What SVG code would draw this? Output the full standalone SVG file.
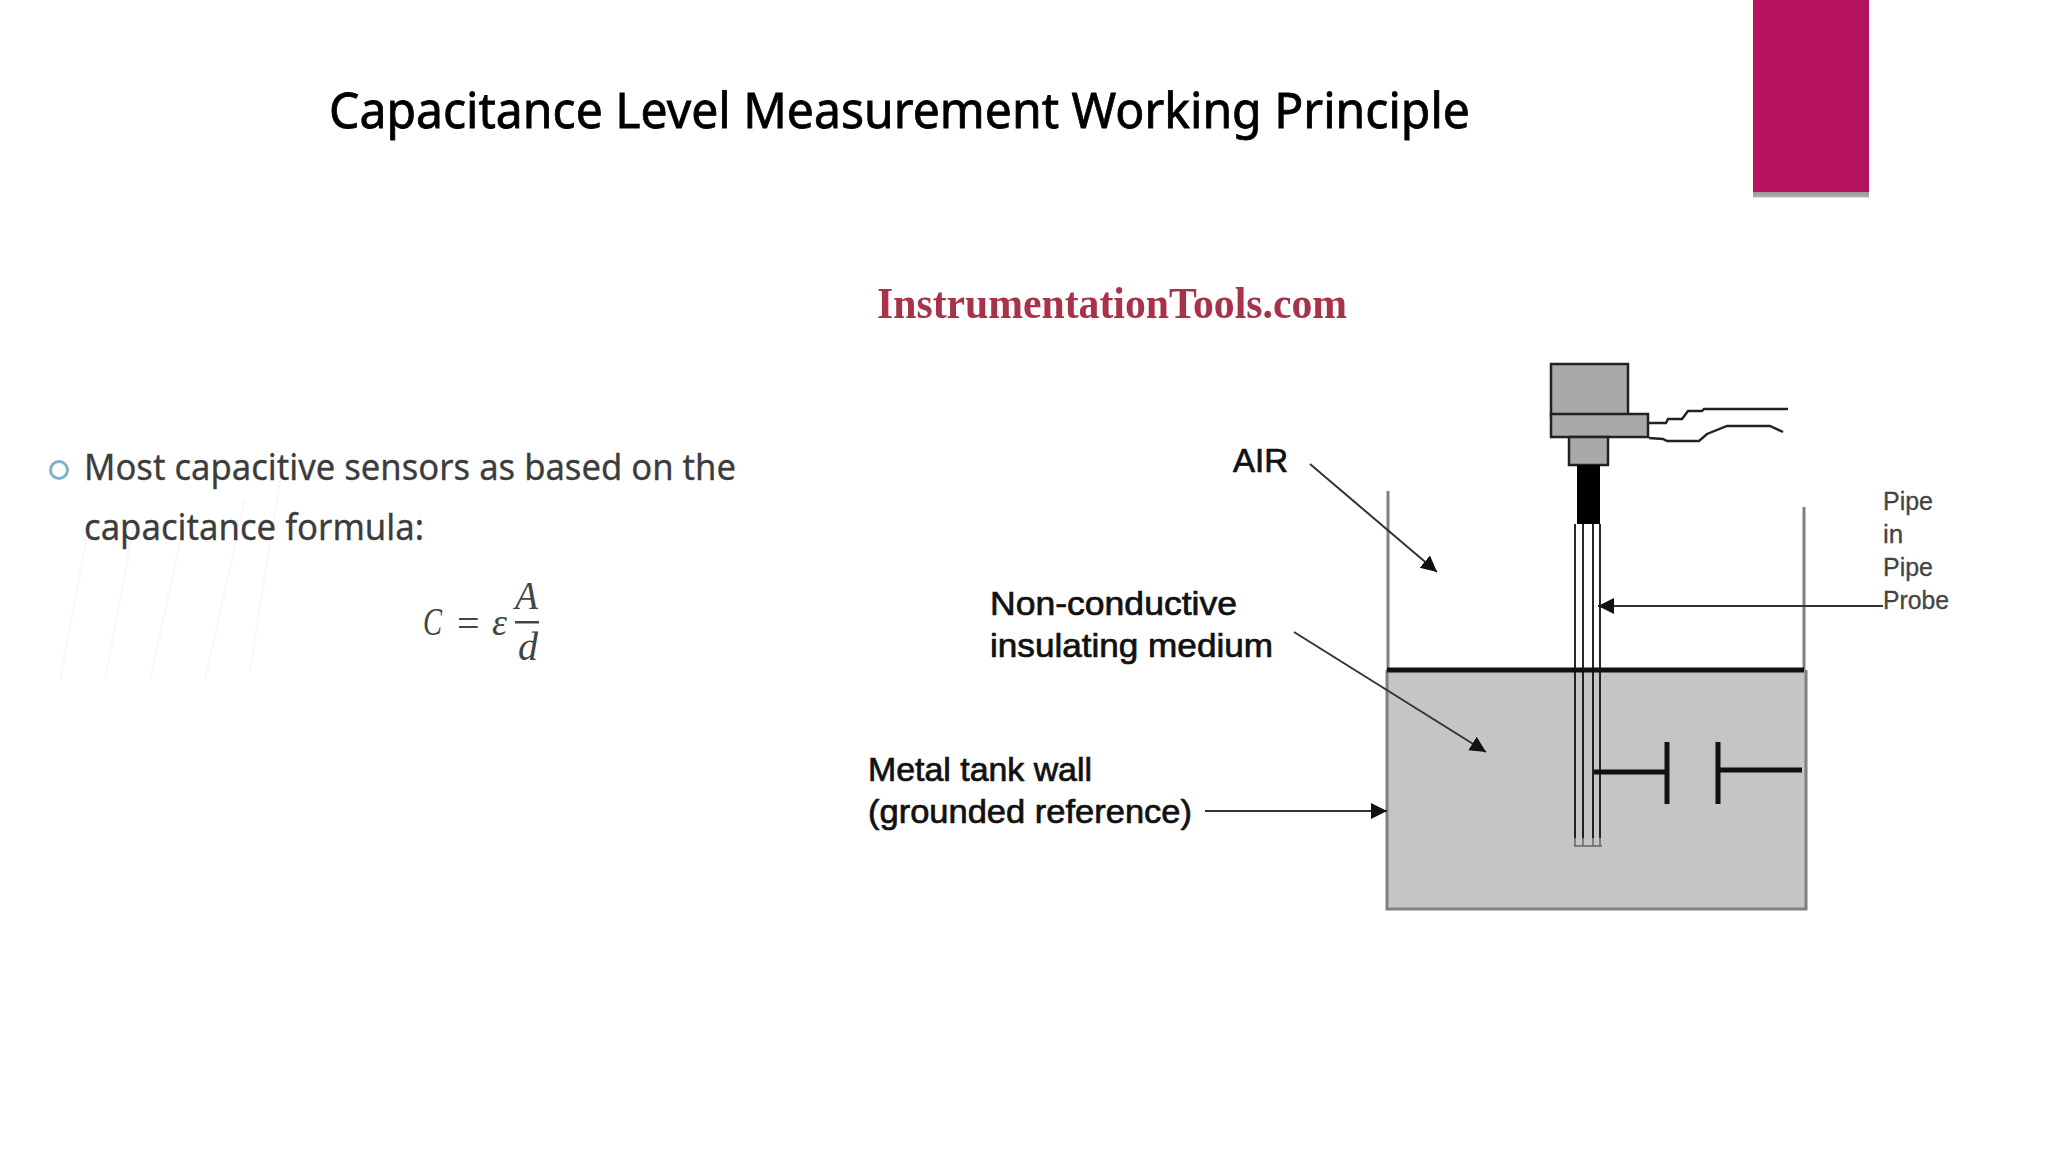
<svg xmlns="http://www.w3.org/2000/svg" width="2048" height="1152" viewBox="0 0 2048 1152">
<defs>
<marker id="ah" markerUnits="userSpaceOnUse" markerWidth="20" markerHeight="18" refX="16" refY="8" orient="auto"><path d="M0 0L16 8L0 16Z" fill="#111"/></marker>
<linearGradient id="sh" x1="0" y1="0" x2="0" y2="1"><stop offset="0" stop-color="#999"/><stop offset="0.7" stop-color="#aaa"/><stop offset="1" stop-color="#eee"/></linearGradient>
<filter id="soft" x="-5%" y="-5%" width="110%" height="110%"><feGaussianBlur stdDeviation="0.6"/></filter>
</defs>
<style>
.lb{font-family:"Liberation Sans",Arial,sans-serif;fill:#111;font-size:33px;stroke:#111;stroke-width:0.7px}
.pp{font-family:"Liberation Sans",Arial,sans-serif;fill:#444;font-size:26px;stroke:#444;stroke-width:0.3px}
.ui{font-family:"Noto Sans","Open Sans",sans-serif}
.m{font-family:"Liberation Serif",serif;font-style:italic;fill:#444}
.conn{fill:none;stroke:#333;stroke-width:2;marker-end:url(#ah)}
.body{fill:#aaa9a9;stroke:#222;stroke-width:2.5}
.pipe{stroke:#111;stroke-width:1.8;fill:none}
.wire{stroke:#222;stroke-width:2.4;fill:none}
.wall{stroke:#808080;stroke-width:3;fill:none}
.cap{stroke:#111;stroke-width:5;fill:none}
.streak{stroke:#f7f7f7;stroke-width:2;fill:none}
</style>
<rect width="2048" height="1152" fill="#fff"/>
<g id="accent"><rect x="1753" y="192" width="116" height="6" fill="url(#sh)"/><rect x="1753" y="0" width="116" height="192" fill="#b5125f"/></g>
<text id="title" class="ui" x="329" y="128" font-size="49" fill="#000" stroke="#000" stroke-width="0.8" textLength="1141" lengthAdjust="spacingAndGlyphs">Capacitance Level Measurement Working Principle</text>
<path class="streak" d="M60 680L90 520M105 680L135 520M150 680L185 520M205 680L245 500M250 670L280 480"/>
<g id="bullet"><circle cx="59" cy="470" r="8.500" fill="none" stroke="#7fb2c4" stroke-width="3"/>
<text class="ui" x="84" y="480" font-size="37" fill="#3c3c3c" stroke="#3c3c3c" stroke-width="0.3" textLength="652" lengthAdjust="spacingAndGlyphs">Most capacitive sensors as based on the</text>
<text class="ui" x="84" y="540" font-size="37" fill="#3c3c3c" stroke="#3c3c3c" stroke-width="0.3" textLength="340" lengthAdjust="spacingAndGlyphs">capacitance formula:</text></g>
<g id="formula">
<text class="m" x="423" y="635" font-size="40" textLength="19" lengthAdjust="spacingAndGlyphs">C</text><text x="457" y="637" font-size="40" fill="#444" font-family="Liberation Serif,serif">=</text><text class="m" x="492" y="635" font-size="38">ε</text>
<text class="m" x="515" y="609" font-size="40" textLength="23" lengthAdjust="spacingAndGlyphs">A</text><rect x="515" y="621" width="24" height="2.500" fill="#444"/><text class="m" x="518" y="660" font-size="40">d</text></g>
<text id="brand" x="877" y="318" font-family="Liberation Serif,serif" font-weight="bold" font-size="44" fill="#a8324a" textLength="470" lengthAdjust="spacingAndGlyphs" filter="url(#soft)">InstrumentationTools.com</text>
<g id="tank">
<rect x="1387" y="670" width="418" height="239" fill="#c5c5c5"/>
<path class="wall" d="M1388 491V670M1804 507V670M1387 670V909H1806V670"/>
<path d="M1387 670H1804" stroke="#111" stroke-width="5"/>
</g>
<g id="probe">
<rect class="body" x="1551" y="364" width="77" height="52"/>
<rect class="body" x="1551" y="414" width="97" height="23"/>
<rect class="body" x="1569" y="437" width="39" height="28"/>
<rect x="1577" y="465" width="23" height="59" fill="#000"/>
<path class="pipe" d="M1575 524V838M1583 524V838M1593 524V838M1600 524V838"/>
<path d="M1575 838V846M1583 838V846M1593 838V846M1600 838V846M1574 846H1602" stroke="#666" stroke-width="1.500" fill="none"/>
<path class="wire" d="M1649 423H1666L1668 419H1682L1688 411H1702L1704 409H1788"/>
<path class="wire" d="M1649 438L1663 439L1667 441H1699L1707 434L1727 426H1770L1783 432"/>
</g>
<g id="capacitor">
<path class="cap" d="M1594 772H1667M1719 770H1802"/>
<path class="cap" d="M1667 742V804M1718 742V804"/>
</g>
<g id="connectors">
<path class="conn" d="M1310 464L1437 572"/>
<path class="conn" d="M1294 632L1486 752"/>
<path class="conn" d="M1205 811H1387"/>
<path class="conn" d="M1883 606H1598"/>
</g>
<g id="labels">
<text class="lb" x="1233" y="472" font-size="34">AIR</text>
<text class="lb" x="990" y="615" textLength="247" lengthAdjust="spacingAndGlyphs">Non-conductive</text>
<text class="lb" x="990" y="657" textLength="283" lengthAdjust="spacingAndGlyphs">insulating medium</text>
<text class="lb" x="868" y="781" textLength="224" lengthAdjust="spacingAndGlyphs">Metal tank wall</text>
<text class="lb" x="868" y="823" textLength="324" lengthAdjust="spacingAndGlyphs">(grounded reference)</text>
<text class="pp" x="1883" y="510" textLength="50" lengthAdjust="spacingAndGlyphs">Pipe</text><text class="pp" x="1883" y="543">in</text><text class="pp" x="1883" y="576" textLength="50" lengthAdjust="spacingAndGlyphs">Pipe</text><text class="pp" x="1883" y="609" textLength="66" lengthAdjust="spacingAndGlyphs">Probe</text>
</g>
</svg>
